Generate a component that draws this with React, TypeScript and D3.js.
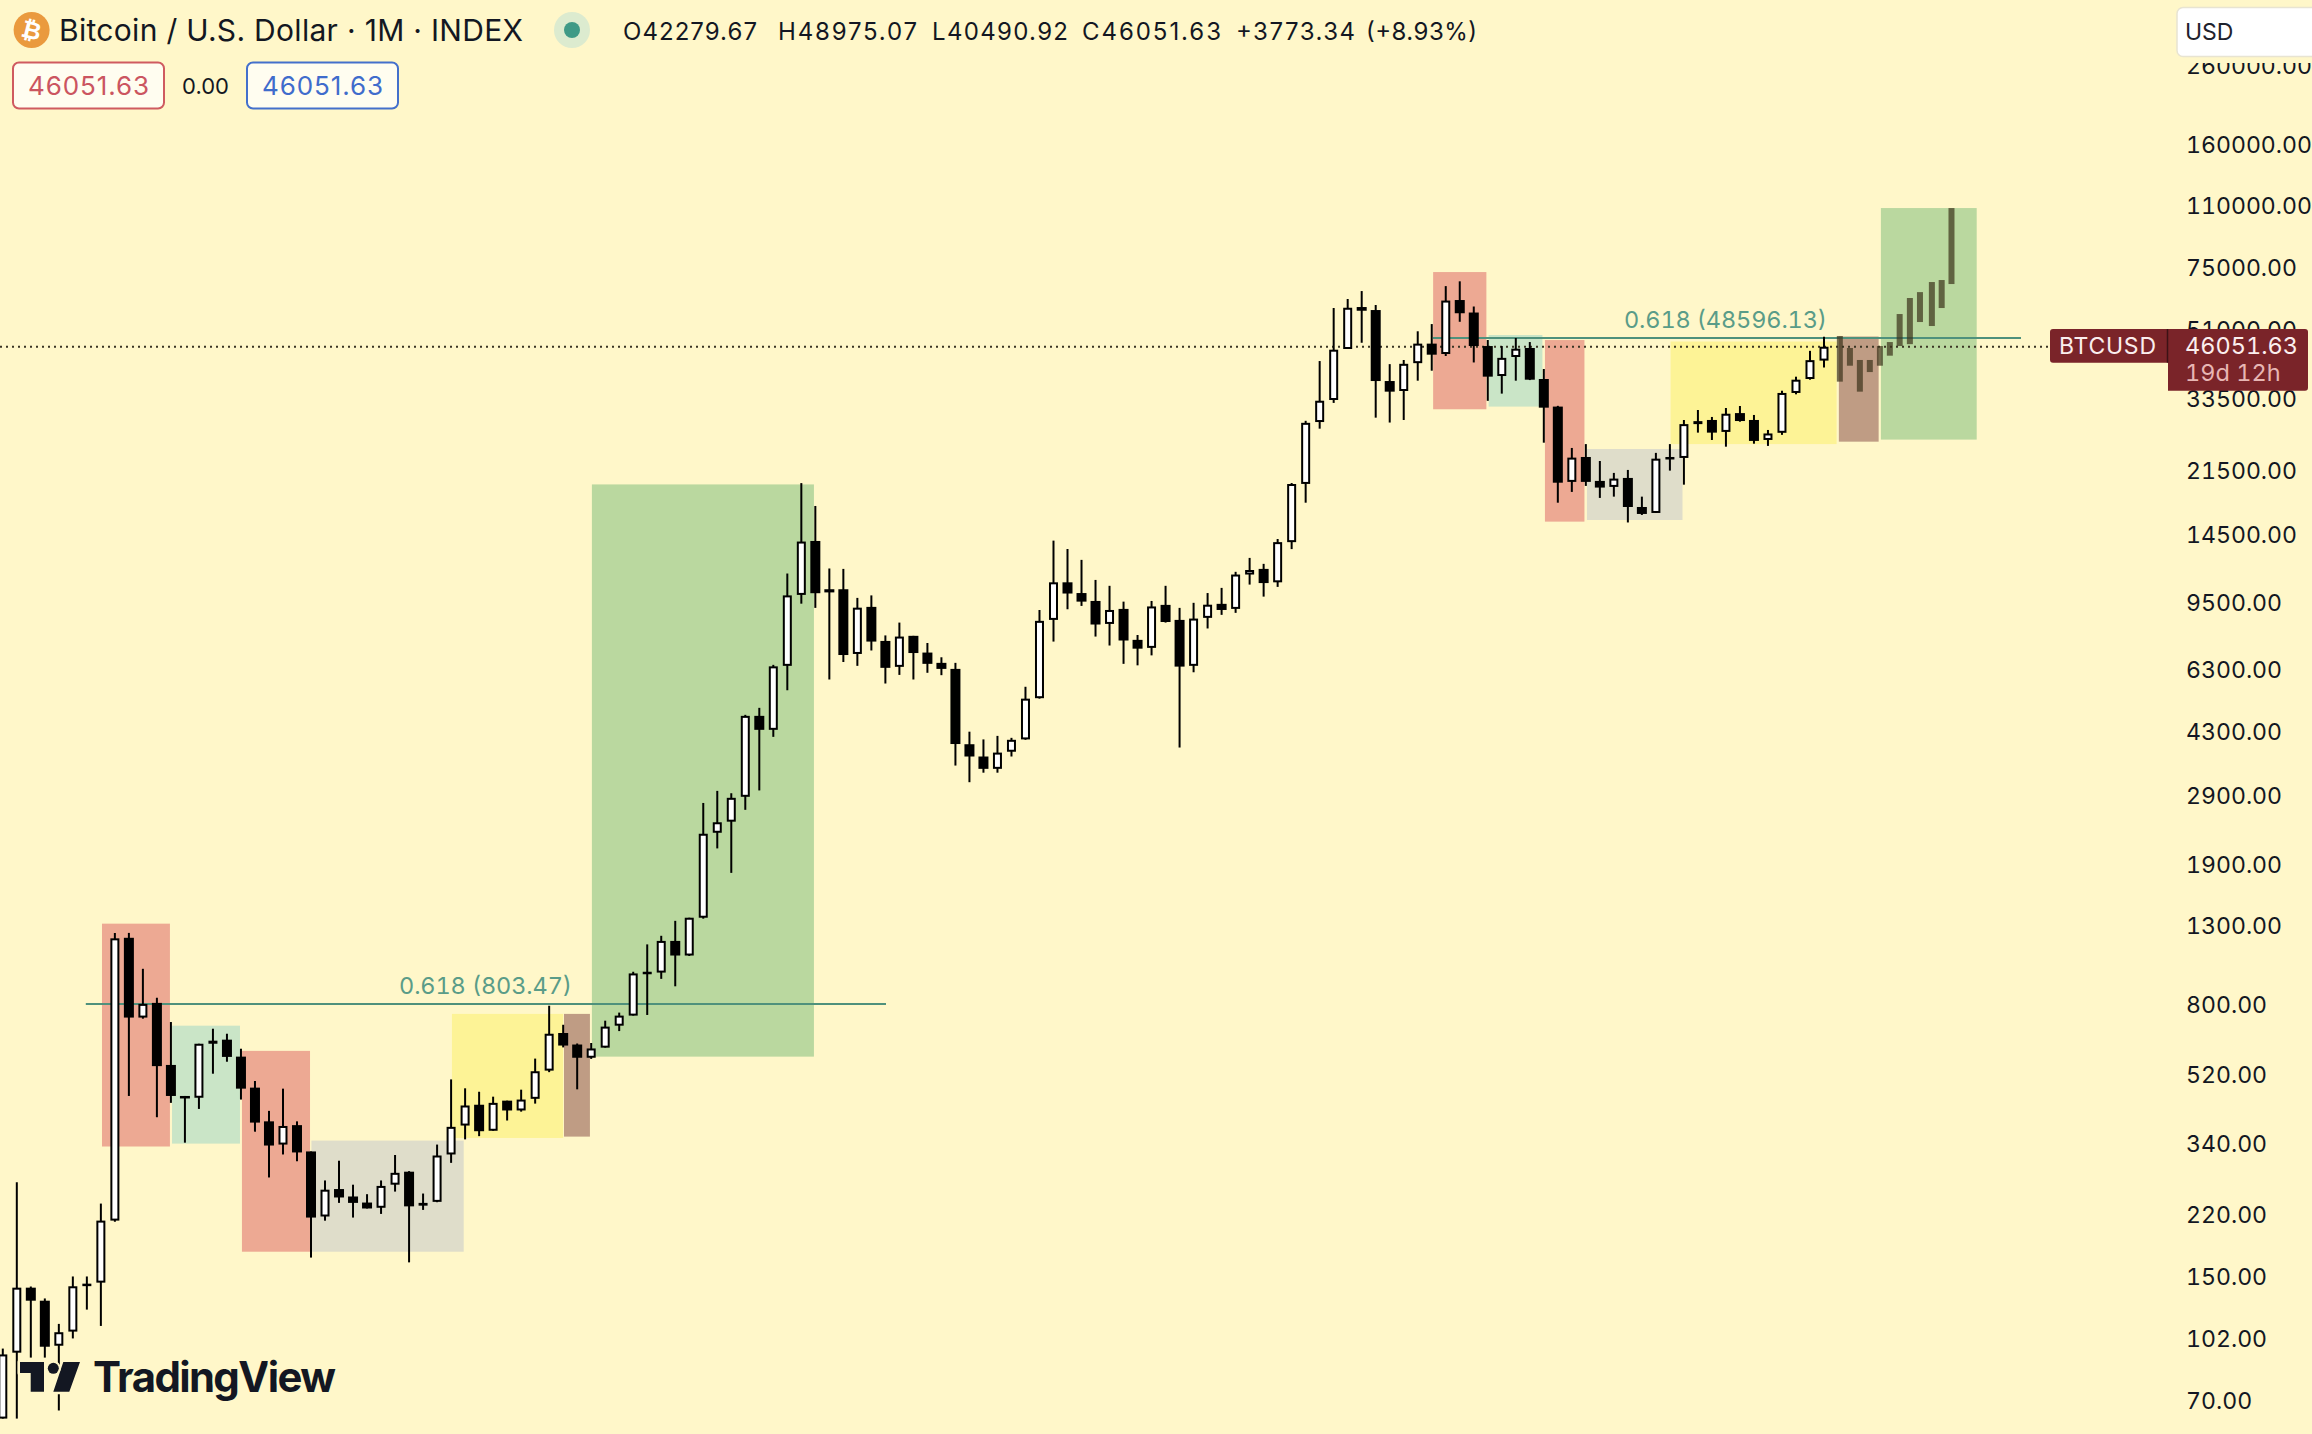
import React from "react";
import * as d3 from "d3";

const opens = [62.5,93.8,140,129.2,97.9,106.8,141.7,144.4,211.6,1208,739,809,552,456,451,629,645,581,480,390,338,381,324,217,257,245.5,236.5,229,264,286,232,237.5,318,380,432,368,443,417,448,533,672,626,577,614,703,748,975,975,1185,1083,1367,2307,2470,2879,4740,4349,6450,9985,13920,10340,10340,6940,9275,7520,6410,7760,7000,6570,6330,3980,3690,3420,3800,4100,5285,8560,10790,10100,9620,8350,9160,7570,7205,9390,8560,6450,8668,9450,9160,11320,11720,10790,13820,19780,28960,33170,45410,58810,57730,37280,35060,41620,46940,44030,61400,56850,46250,38450,43230,45694,37750,31850,20030,23350,20150,19420,20523,17160,16540,23070,23213,28590,29330,27250,30600,29330,25930,27100,34640,37750,42279.67];
const highs = [96.2,268,141,131,112,150,150,235,1245,1245,998,835,719,456,629,690,669,610,500,416,477,390,324,271,306,264,249,271,317,287,250,338,505,478,468,454,443,474,574,795,707,630,632,725,762,980,1160,1223,1341,1367,2772,2986,2943,4770,4980,6490,11391,19880,17270,11750,11720,9803,9955,7780,8420,7760,7425,6800,6570,4300,4100,4190,4140,5670,9100,13950,13250,12390,10950,10560,9580,7800,9620,10560,9218,9510,10100,10426,11510,12541,12090,14090,19890,29180,42165,58450,61800,64890,59540,41370,42440,50650,52950,66900,68900,59000,48000,46250,48596,47400,40150,32000,24687,25280,22780,21170,21560,18290,23950,25280,29330,31190,29880,31580,31970,30250,27580,35120,38290,44900,48975.07];
const lows = [62.5,62.5,91,91,65.7,102.4,122.3,110.6,210,456,734,400,437,342,421,523,563,446,366,276,318,305,168.5,211.5,236,215.6,228,220.5,253,163.6,226,237,302,349,356,368,392,414,435,528,615,475,573,614,680,748,751,938,896,1080,1359,2095,1802,2657,2994,4165,5550,9460,9218,5930,6605,6450,7090,5785,6100,5930,6180,6090,3490,3150,3340,3340,3690,4090,5270,7490,9140,9330,7725,7310,6530,6470,6880,8420,3900,6200,8120,8830,8940,10640,9880,10490,13240,17620,27800,32580,45410,47190,29750,28870,29330,37360,39730,43500,53700,41800,33000,34500,37360,37500,25500,17620,18830,19540,18146,18290,15600,16340,16540,21470,19690,27130,25930,24880,29020,25340,25000,26760,34350,37590,40490.92];
const closes = [92.8,140,129.2,97.3,106.4,141.2,143.5,211.6,1204,739,804,548,456,449,629,641,580,477,387,336,379,322,215.6,256,244,236,228,262,284,231,236,316,377,430,367,437,417,446,531,669,622,577,611,699,748,970,980,1185,1083,1367,2293,2461,2861,4740,4349,6430,9955,13870,10090,10140,6895,9230,7490,6371,7725,6980,6530,6330,3985,3690,3420,3780,4090,5270,8510,10790,10070,9580,8320,9100,7540,7170,9300,8450,6420,8630,9400,9100,11320,11640,10740,13820,19770,28820,33020,45220,58550,57480,37280,34920,41450,46940,43850,61200,56600,46250,38300,43000,45500,37590,31640,19930,23260,20030,19340,20440,17160,16440,23110,23350,28590,29120,27130,30480,29140,25780,26990,34640,37590,42400,46051.63];

// bars-pattern projection after the last candle (bar position, high, low)
const projectionAt = [131.13,131.85,132.56,133.27,133.99,134.7,135.4,136.13,136.85,137.7,138.4,139.1];
const projectionHigh = [49200,45694,42440,42440,46250,47400,56330,62170,64470,68600,69450,108200];
const projectionLow = [37140,40970,34920,39400,40970,43580,46250,46790,53620,52320,58450,67760];

// shaded phase zones: from bar, to bar, top price, bottom price, fill
const zoneFrom = [7.08,12.08,17.07,22.03,32.06,40.06,42.05,102.1,106.06,110.08,113.08,119.05,131.06,134.06];
const zoneTo = [11.93,16.93,21.93,32.9,40,41.91,57.9,105.9,109.9,112.9,119.9,130.9,133.9,140.9];
const zoneTop = [1318,703,602,346.4,756,756,19720,72950,49500,47990,24530,47550,49040,108200];
const zoneBottom = [334,340,174.7,174.7,352,355,581,31330,31850,15680,15840,25280,25660,25990];
const zoneColor = ["#eda993","#cae5c7","#eda993","#dfddca","#fdf396","#bf9c84","#bad89f","#eda993","#cae5c7","#eda993","#dfddca","#fdf396","#bf9c84","#bad89f"];

const tickValues = [260000,160000,110000,75000,51000,33500,21500,14500,9500,6300,4300,2900,1900,1300,800,520,340,220,150,102,70];

const fibLevels = [803.47, 48596.13];
const lastPrice = 46051.63;

const BG = "#fff7c9";
const FONT = "Inter, 'Liberation Sans', sans-serif";
const TNUM: React.CSSProperties = { fontVariantNumeric: "tabular-nums" };

const x = d3.scaleLinear().domain([0, 130]).range([2.8, 1824]);
const y = d3.scaleLog().domain([48596.13, 803.47]).range([338, 1004]);

const ohlcParts: [string, number, number][] = [
  ["O42279.67", 623, 134],
  ["H48975.07", 778, 139],
  ["L40490.92", 932, 136],
  ["C46051.63", 1082, 139],
  ["+3773.34", 1236, 119],
  ["(+8.93%)", 1366, 111],
];

export default function App() {
  const candles = opens.map((o, i) => ({ i, o, h: highs[i], l: lows[i], c: closes[i] }));
  return (
    <svg width={2312} height={1434} viewBox="0 0 2312 1434" style={{ position: "absolute", left: 0, top: 0, display: "block", background: BG }} fontFamily={FONT}>
      <rect width={2312} height={1434} fill={BG} />

      {zoneFrom.map((f, k) => (
        <rect key={k} x={x(f)} width={x(zoneTo[k]) - x(f)} y={y(zoneTop[k])} height={y(zoneBottom[k]) - y(zoneTop[k])} fill={zoneColor[k]} />
      ))}

      <line x1={0} x2={2052} y1={y(lastPrice)} y2={y(lastPrice)} stroke="#3a3524" strokeWidth={2} strokeDasharray="2 4" />

      <line x1={85.8} x2={886} y1={y(fibLevels[0])} y2={y(fibLevels[0])} stroke="#4f917c" strokeWidth={2} />
      <line x1={1433} x2={2021} y1={y(fibLevels[1])} y2={y(fibLevels[1])} stroke="#4f917c" strokeWidth={2} />
      <text x={399} y={y(fibLevels[0]) - 10} fontSize={23.5} fill="#5a9c88" textLength={173} style={TNUM}>0.618 (803.47)</text>
      <text x={1624} y={y(fibLevels[1]) - 10} fontSize={23.5} fill="#5a9c88" textLength={203} style={TNUM}>0.618 (48596.13)</text>

      {candles.map(({ i, o, h, l, c }) => {
        const cx = x(i);
        const up = c >= o;
        const top = y(Math.max(o, c));
        const bot = y(Math.min(o, c));
        return (
          <g key={i}>
            <line x1={cx} x2={cx} y1={y(h)} y2={y(l)} stroke="#000" strokeWidth={2} />
            {up ? (
              <rect x={cx - 3.5} width={7} y={top + 1} height={Math.max(bot - top - 2, 0.5)} fill="#fff" stroke="#000" strokeWidth={2} />
            ) : (
              <rect x={cx - 5} width={10} y={top} height={Math.max(bot - top, 2.4)} fill="#000" />
            )}
          </g>
        );
      })}

      {projectionAt.map((p, k) => (
        <rect key={k} x={x(p) - 3} width={6} y={y(projectionHigh[k])} height={y(projectionLow[k]) - y(projectionHigh[k])} fill="#3a321a" fillOpacity={0.7} />
      ))}

      {tickValues.map((t) => (
        <text key={t} x={2186} y={y(t)} dy="0.36em" fontSize={23.1} fill="#131722" style={TNUM}>{t.toFixed(2)}</text>
      ))}

      <g>
        <path d="M2050 332 a3 3 0 0 1 3 -3 H2168 V362.7 H2053 a3 3 0 0 1 -3 -3 Z" fill="#7a2429" />
        <path d="M2168 329 H2305 a3 3 0 0 1 3 3 V387.7 a3 3 0 0 1 -3 3 H2168 Z" fill="#7a2429" />
        <line x1={2167.5} x2={2167.5} y1={329} y2={362.7} stroke="#3c1216" strokeWidth={1.5} />
        <text x={2059} y={346} dy="0.36em" fontSize={23} fill="#fbeeee" textLength={97}>BTCUSD</text>
        <text x={2185} y={346} dy="0.36em" fontSize={23.5} fill="#fbeeee" style={TNUM}>46051.63</text>
        <text x={2185} y={373} dy="0.36em" fontSize={23.5} fill="#e7b6b4" style={TNUM}>19d 12h</text>
      </g>

      <rect x={2177} y={56} width={135} height={7} fill={BG} />
      <rect x={2177} y={7.5} width={150} height={49} rx={6} fill="#fff" stroke="#e8e4d2" strokeWidth={1.5} />
      <text x={2185} y={32} dy="0.36em" fontSize={23} fill="#1e222d">USD</text>

      <circle cx={31.6} cy={30} r={18} fill="#ea9a3e" />
      <text x={31.6} y={30} dy="0.36em" textAnchor="middle" fontSize={24} fontWeight={700} fill="#fff" fontFamily="'DejaVu Sans', sans-serif" transform="rotate(14 31.6 30)">₿</text>
      <text x={59} y={30} dy="0.36em" fontSize={30} fill="#131722" textLength={464}>Bitcoin / U.S. Dollar · 1M · INDEX</text>
      <circle cx={572} cy={30} r={18} fill="#dcebcf" />
      <circle cx={572} cy={30} r={8} fill="#3f9a86" />
      {ohlcParts.map(([s, px, w]) => (
        <text key={s} x={px} y={31} dy="0.36em" fontSize={24} fill="#131722" textLength={w}>{s}</text>
      ))}

      <rect x={13} y={62.5} width={151} height={46} rx={6} fill="#fffdf0" stroke="#cf5b60" strokeWidth={2} />
      <text x={28} y={86} dy="0.36em" fontSize={26} fill="#cb5560" textLength={121}>46051.63</text>
      <text x={205.5} y={86} dy="0.36em" textAnchor="middle" fontSize={22} fill="#131722">0.00</text>
      <rect x={247} y={62.5} width={151} height={46} rx={6} fill="#fffdf0" stroke="#4470cc" strokeWidth={2} />
      <text x={262} y={86} dy="0.36em" fontSize={26} fill="#3f6ccc" textLength={121}>46051.63</text>

      <g>
        <path d="M20 1362 H44 V1391.7 H30.7 V1373 H20 Z M63.3 1362 H80 L69.3 1391.7 H53.3 Z" fill="#131722" stroke={BG} strokeWidth={5} paintOrder="stroke" strokeLinejoin="round" />
        <circle cx={53.3} cy={1368.3} r={5.5} fill="#131722" stroke={BG} strokeWidth={4} paintOrder="stroke" />
        <text x={93} y={1391.7} fontSize={42} fontWeight={700} fill="#131722" stroke={BG} strokeWidth={5} paintOrder="stroke" strokeLinejoin="round" textLength={243}>TradingView</text>
      </g>
    </svg>
  );
}
